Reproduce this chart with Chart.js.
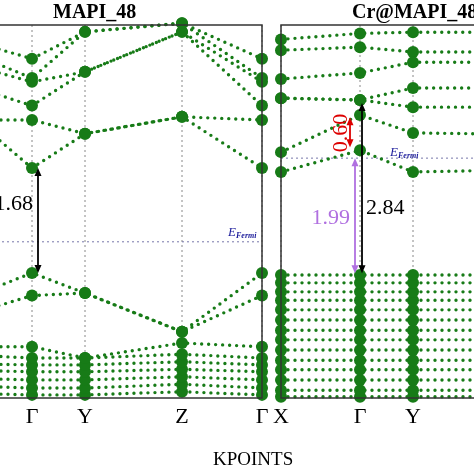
<!DOCTYPE html>
<html><head><meta charset="utf-8">
<script src="https://cdn.jsdelivr.net/npm/chart.js@4"></script>
<style>
html,body{margin:0;padding:0;width:474px;height:474px;overflow:hidden;background:#fff;position:relative;font-family:"Liberation Serif",serif}
canvas{position:absolute;top:0}
.t{position:absolute;white-space:nowrap}
</style></head><body>
<canvas id="cL" style="left:-60px;width:330px;height:474px" width="330" height="474"></canvas>
<canvas id="cR" style="left:270px;width:260px;height:474px" width="260" height="474"></canvas>
<div class="t" style="left:53px;top:0px;font-size:20px;font-weight:bold">MAPI_48</div>
<div class="t" style="left:352px;top:0px;font-size:20px;font-weight:bold">Cr@MAPI_48</div>
<div class="t" style="left:213px;top:448px;font-size:19px">KPOINTS</div>
<script>
// ---------- data: left panel (MAPI_48), energies in eV relative to E_Fermi ----------
const leftK = [0, 0.80, 1.33, 2.30, 3.10];
const leftLabels = ["X", "Γ", "Y", "Z", "Γ"];
const leftBands = [
  [2.27, 1.18, 1.73, 2.00, 1.18],
  [1.95, 1.95, 1.73, 2.00, 1.95],
  [2.59, 2.18, 2.72, 3.36, 2.18],
  [2.91, 2.56, 2.72, 3.36, 2.56],
  [3.15, 2.62, 3.36, 3.50, 2.62],
  [3.30, 2.93, 3.36, 3.50, 2.93],
  [-1.00, -0.50, -0.82, -1.44, -0.50],
  [-1.25, -0.86, -0.82, -1.44, -0.86],
  [-1.68, -1.68, -1.86, -1.62, -1.68],
  [-1.80, -1.86, -1.86, -1.80, -1.86],
  [-1.95, -1.97, -1.97, -1.92, -1.97],
  [-2.05, -2.08, -2.08, -2.04, -2.08],
  [-2.18, -2.21, -2.21, -2.16, -2.21],
  [-2.30, -2.34, -2.34, -2.28, -2.34],
  [-2.42, -2.45, -2.45, -2.40, -2.45]
];
// ---------- data: right panel (Cr@MAPI_48) ----------
const rightK = [0, 0.79, 1.32, 2.29];
const rightLabels = ["X", "Γ", "Y", ""];
const rightBands = [
  [-0.23, 0.13, -0.23, -0.20],
  [0.10, 0.72, 0.42, 0.40],
  [1.00, 0.97, 0.85, 0.85],
  [1.00, 0.97, 1.17, 1.17],
  [1.32, 1.42, 1.60, 1.60],
  [1.80, 1.85, 1.77, 1.77],
  [1.98, 2.08, 2.10, 2.10],
  [-1.95, -1.95, -1.95, -1.95],
  [-2.08, -2.08, -2.08, -2.08],
  [-2.23, -2.23, -2.23, -2.23],
  [-2.37, -2.37, -2.37, -2.37],
  [-2.53, -2.53, -2.53, -2.53],
  [-2.70, -2.70, -2.70, -2.70],
  [-2.87, -2.87, -2.87, -2.87],
  [-3.03, -3.03, -3.03, -3.03],
  [-3.20, -3.20, -3.20, -3.20],
  [-3.37, -3.37, -3.37, -3.37],
  [-3.53, -3.53, -3.53, -3.53],
  [-3.70, -3.70, -3.70, -3.70],
  [-3.87, -3.87, -3.87, -3.87],
  [-3.98, -3.98, -3.98, -3.98]
];
const GREEN = "#177b17";

function deco(cfg){
  return {
    id:'deco',
    beforeDatasetsDraw(chart){
      const c=chart.ctx,a=chart.chartArea,x=chart.scales.x,y=chart.scales.y;
      c.save();
      c.strokeStyle='#888';c.lineWidth=1;c.setLineDash([2,3]);
      cfg.k.forEach(k=>{const px=x.getPixelForValue(k);c.beginPath();c.moveTo(px,a.top);c.lineTo(px,a.bottom);c.stroke();});
      c.strokeStyle='#7777aa';
      const fy=y.getPixelForValue(0);c.beginPath();c.moveTo(a.left,fy);c.lineTo(a.right,fy);c.stroke();
      c.restore();
    },
    afterDraw(chart){
      const c=chart.ctx,a=chart.chartArea,x=chart.scales.x,y=chart.scales.y;
      c.save();
      c.strokeStyle='#333';c.lineWidth=1.5;c.strokeRect(a.left,a.top,a.right-a.left,a.bottom-a.top);
      c.fillStyle='#000';c.font='22px "Liberation Serif"';c.textAlign='center';c.textBaseline='top';
      cfg.k.forEach((k,i)=>c.fillText(cfg.labels[i],x.getPixelForValue(k),a.bottom+8));
      cfg.extra(c,x,y,a);
      c.restore();
    }
  };
}
function arrow(c,x,y1,y2,col){
  c.strokeStyle=col;c.fillStyle=col;c.lineWidth=1.8;c.setLineDash([]);
  c.beginPath();c.moveTo(x,y1+4);c.lineTo(x,y2-4);c.stroke();
  [[y1,1],[y2,-1]].forEach(([yy,s])=>{c.beginPath();c.moveTo(x,yy);c.lineTo(x-3.5,yy+8*s);c.lineTo(x+3.5,yy+8*s);c.closePath();c.fill();});
}
function fermiText(c,px,py){
  c.fillStyle='#1a1a9a';c.textAlign='left';c.textBaseline='alphabetic';
  c.font='italic 13px "Liberation Serif"';c.fillText('E',px,py);
  c.font='italic bold 8px "Liberation Serif"';c.fillText('Fermi',px+8,py+2);
}
function makeChart(id,K,bands,pad,ymin,ymax,xmax,extra,labels){
  const datasets=bands.map(b=>({data:b.map((e,i)=>({x:K[i],y:e})),showLine:true,borderColor:GREEN,borderWidth:3.4,borderDash:[0,7],borderCapStyle:'round',pointRadius:6,pointHoverRadius:6,pointBackgroundColor:GREEN,pointBorderWidth:0,clip:false}));
  new Chart(document.getElementById(id),{type:'scatter',data:{datasets},
    options:{responsive:false,animation:false,layout:{padding:pad},
      plugins:{legend:{display:false},tooltip:{enabled:false}},
      scales:{x:{type:'linear',min:0,max:xmax,display:false},y:{type:'linear',min:ymin,max:ymax,display:false}}},
    plugins:[deco({k:K,labels,extra})]});
}
makeChart('cL',leftK,leftBands,{left:12,right:8,top:25,bottom:76},-2.5,3.47,3.10,(c,x,y,a)=>{
  const gx=x.getPixelForValue(0.86);
  arrow(c,gx,y.getPixelForValue(1.18),y.getPixelForValue(-0.50),'#000');
  c.fillStyle='#000';c.font='22px "Liberation Serif"';c.textAlign='right';c.textBaseline='middle';
  c.fillText('1.68',gx-5,y.getPixelForValue(0.60));
  fermiText(c,x.getPixelForValue(2.76),y.getPixelForValue(0)-6);
},leftLabels);
makeChart('cR',rightK,rightBands,{left:11,right:10,top:25,bottom:76},-4.0,2.22,2.39,(c,x,y,a)=>{
  const gx=x.getPixelForValue(0.79);
  arrow(c,gx+2,y.getPixelForValue(0.92),y.getPixelForValue(-1.92),'#000');
  arrow(c,gx-5,y.getPixelForValue(0.0),y.getPixelForValue(-1.92),'#b070e0');
  arrow(c,gx-10,y.getPixelForValue(0.68),y.getPixelForValue(0.18),'#dd0000');
  c.font='22px "Liberation Serif"';c.textBaseline='middle';
  c.fillStyle='#000';c.textAlign='left';c.fillText('2.84',gx+6,y.getPixelForValue(-0.83));
  c.fillStyle='#b070e0';c.textAlign='right';c.fillText('1.99',gx-10,y.getPixelForValue(-1.0));
  c.save();c.translate(gx-19,y.getPixelForValue(0.42));c.rotate(-Math.PI/2);
  c.fillStyle='#dd0000';c.textAlign='center';c.fillText('0.60',0,0);c.restore();
  fermiText(c,x.getPixelForValue(1.09),y.getPixelForValue(0)-2);
},rightLabels);
</script></body></html>
